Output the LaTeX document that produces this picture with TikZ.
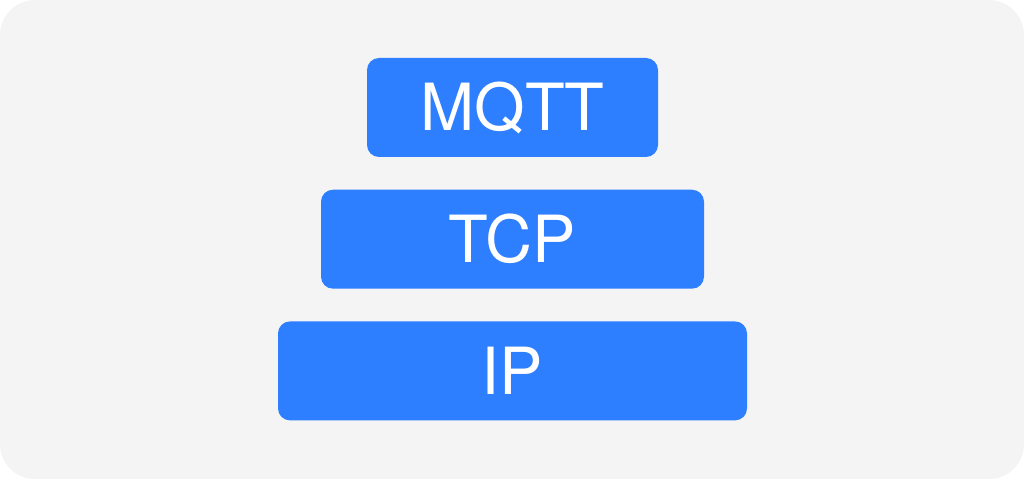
\documentclass[tikz,border=0pt]{standalone}
\usepackage{fontspec}
\setmainfont{TeX Gyre Heros}
\usetikzlibrary{positioning}

\definecolor{layerblue}{HTML}{2D7FFF}
\definecolor{panelgray}{HTML}{F4F4F4}

\begin{document}
\begin{tikzpicture}[
  node distance = 0.64cm,
  font = \fontsize{37}{40}\selectfont
  ]

  \tikzstyle{layer}=[
  fill = layerblue,
  text = white,
  rounded corners = 0.24cm,
  minimum height = 1.98cm,
  inner sep = 0pt
  ]

  % background panel
  \fill[white] (0,0) rectangle (20.48,9.58);
  \useasboundingbox (0,0) rectangle (20.48,9.58);
  \fill[panelgray, rounded corners = 0.7cm] (0,0) rectangle (20.48,9.58);

  \node[layer, minimum width = 5.82cm] (mqtt) at (10.25,7.43) {MQTT};
  \node[layer, minimum width = 7.66cm] (tcp) [below=of mqtt] {TCP};
  \node[layer, minimum width = 9.38cm] (ip) [below=of tcp] {IP};

\end{tikzpicture}
\end{document}
